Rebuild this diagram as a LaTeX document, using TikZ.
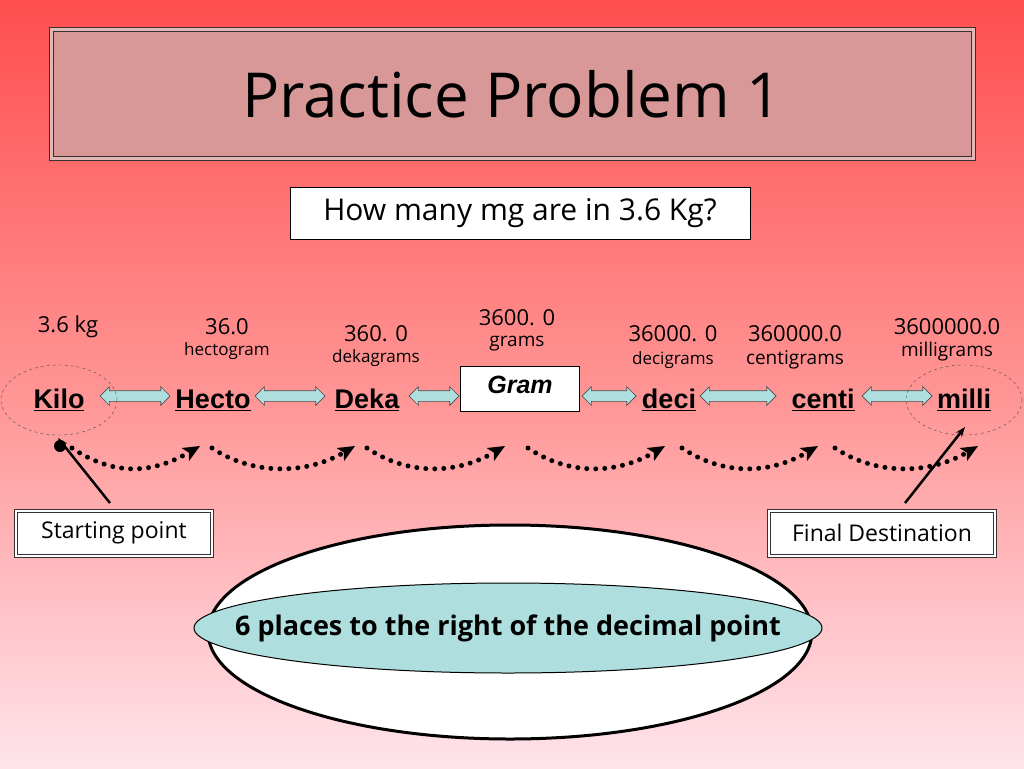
\documentclass[tikz,border=0pt]{standalone}
\usepackage{fontspec}
\setmainfont{Open Sans}
\newfontfamily\arialb{Liberation Sans}
\usetikzlibrary{shapes.arrows,shapes.geometric,arrows.meta}
\definecolor{topred}{RGB}{255,78,78}
\definecolor{midred}{RGB}{255,150,150}
\definecolor{botpink}{RGB}{255,228,236}
\definecolor{titlefill}{RGB}{216,152,152}
\definecolor{lblue}{RGB}{175,222,222}
\begin{document}
\begin{tikzpicture}[x=1pt,y=-1pt,
  unit/.style={font=\arialb\bfseries\fontsize{27}{27}\selectfont,inner sep=1pt},
  num/.style={font=\fontsize{22}{22}\selectfont,inner sep=0pt},
  sub/.style={font=\fontsize{17}{17}\selectfont,inner sep=0pt},
  dbl/.style={double arrow,draw=black!70,fill=lblue,line width=0.7pt,minimum height=70pt,minimum width=0pt,inner sep=5pt,double arrow head extend=4pt},
  dots/.style={line width=5pt,dash pattern=on 0pt off 9pt,line cap=round,-{Stealth[length=17pt,width=15pt,inset=4pt,line width=0pt]}},
  lbl/.style={draw=black!80,line width=1pt,double=white,double distance=2pt,fill=white,font=\fontsize{23}{23}\selectfont,inner sep=0pt,minimum height=45pt}]
\useasboundingbox (0,0) rectangle (1024,768);
\fill[top color=topred,bottom color=midred] (0,0) rectangle (1024,400);
\fill[top color=midred,bottom color=botpink] (0,400) rectangle (1024,768);
\node[draw=black!80,line width=1pt,double=titlefill!70!white,double distance=3pt,fill=titlefill,minimum width=922pt,minimum height=128pt,font=\fontsize{62}{62}\selectfont] (title) at (512,94) {Practice Problem 1};
\node[draw,line width=0.8pt,fill=white,minimum width=460pt,minimum height=52pt,font=\fontsize{30}{30}\selectfont] (q) at (520,213) {How many mg are in 3.6 Kg?};
% units
\node[unit] (kilo) at (59,400) {\underline{Kilo}};
\node[unit] (hecto) at (213,400) {\underline{Hecto}};
\node[unit] (deka) at (367,400) {\underline{Deka}};
\node[draw,line width=0.8pt,fill=white,minimum width=119pt,minimum height=45pt,font=\arialb\bfseries\itshape\fontsize{25}{25}\selectfont,text depth=9pt] (gram) at (520,389) {Gram};
\node[unit] (deci) at (669,400) {\underline{deci}};
\node[unit] (centi) at (823,400) {\underline{centi}};
\node[unit] (milli) at (964,400) {\underline{milli}};
% double arrows
\node[dbl] (a1) at (135,396) {};
\node[dbl] (a2) at (290,396) {};
\node[dbl,minimum height=50pt] (a3) at (434,396) {};
\node[dbl,minimum height=54pt] (a4) at (609,396) {};
\node[dbl,minimum height=76pt] (a5) at (738,396) {};
\node[dbl] (a6) at (897,396) {};
% values
\node[num] (v1) at (68,327) {3.6 kg};
\node[num] (v2) at (227,327) {36.0};
\node[sub] (s2) at (227,351) {hectogram};
\node[num] (v3) at (376,334) {360. 0};
\node[sub] (s3) at (376,358) {dekagrams};
\node[num] (v4) at (517,318) {3600. 0};
\node[sub,font=\fontsize{19}{19}\selectfont] (s4) at (517,344) {grams};
\node[num] (v5) at (673,334) {36000. 0};
\node[sub] (s5) at (673,360) {decigrams};
\node[num] (v6) at (795,334) {360000.0};
\node[sub,font=\fontsize{19}{19}\selectfont] (s6) at (795,360) {centigrams};
\node[num] (v7) at (947,327) {3600000.0};
\node[sub,font=\fontsize{19}{19}\selectfont] (s7) at (947,352) {milligrams};
% dashed ellipses
\draw[dashed,black!70,thin] (kilo) ellipse [x radius=58,y radius=35];
\draw[dashed,black!70,thin] (964,400) ellipse [x radius=58,y radius=35];
% dotted arcs
\coordinate (d0) at (60,446);
\fill (d0) circle (6);
\foreach \a/\b [count=\i] in {72/200,212/355,367/505,528/665,682/818,835/978}{
  \coordinate (p\i) at (\a,448);
  \coordinate (q\i) at (\b,446);
  \draw[dots] (p\i) .. controls ({\a+40},475) and ({\b-50},475) .. (q\i);
}
% boxes and pointers
\node[lbl,minimum width=196pt] (start) at (114,533) {Starting point};
\node[lbl,minimum width=226pt] (final) at (882,533) {Final Destination};
\coordinate (ks) at (110,503);
\coordinate (ke) at (58,438);
\draw[line width=2.5pt,-{Stealth[length=10pt]}] (ks) -- (ke);
\coordinate (ms) at (905,503);
\coordinate (me) at (965,427);
\draw[line width=2.5pt,-{Stealth[length=10pt]}] (ms) -- (me);
% ellipses
\draw[line width=3pt,fill=white] (510,632) ellipse [x radius=302,y radius=107];
\draw[line width=1pt,fill=lblue] (508,628) ellipse [x radius=314,y radius=45];
\node[font=\bfseries\fontsize{27}{27}\selectfont,inner sep=0pt] (ans) at (508,628) {6 places to the right of the decimal point};
\end{tikzpicture}
\end{document}
